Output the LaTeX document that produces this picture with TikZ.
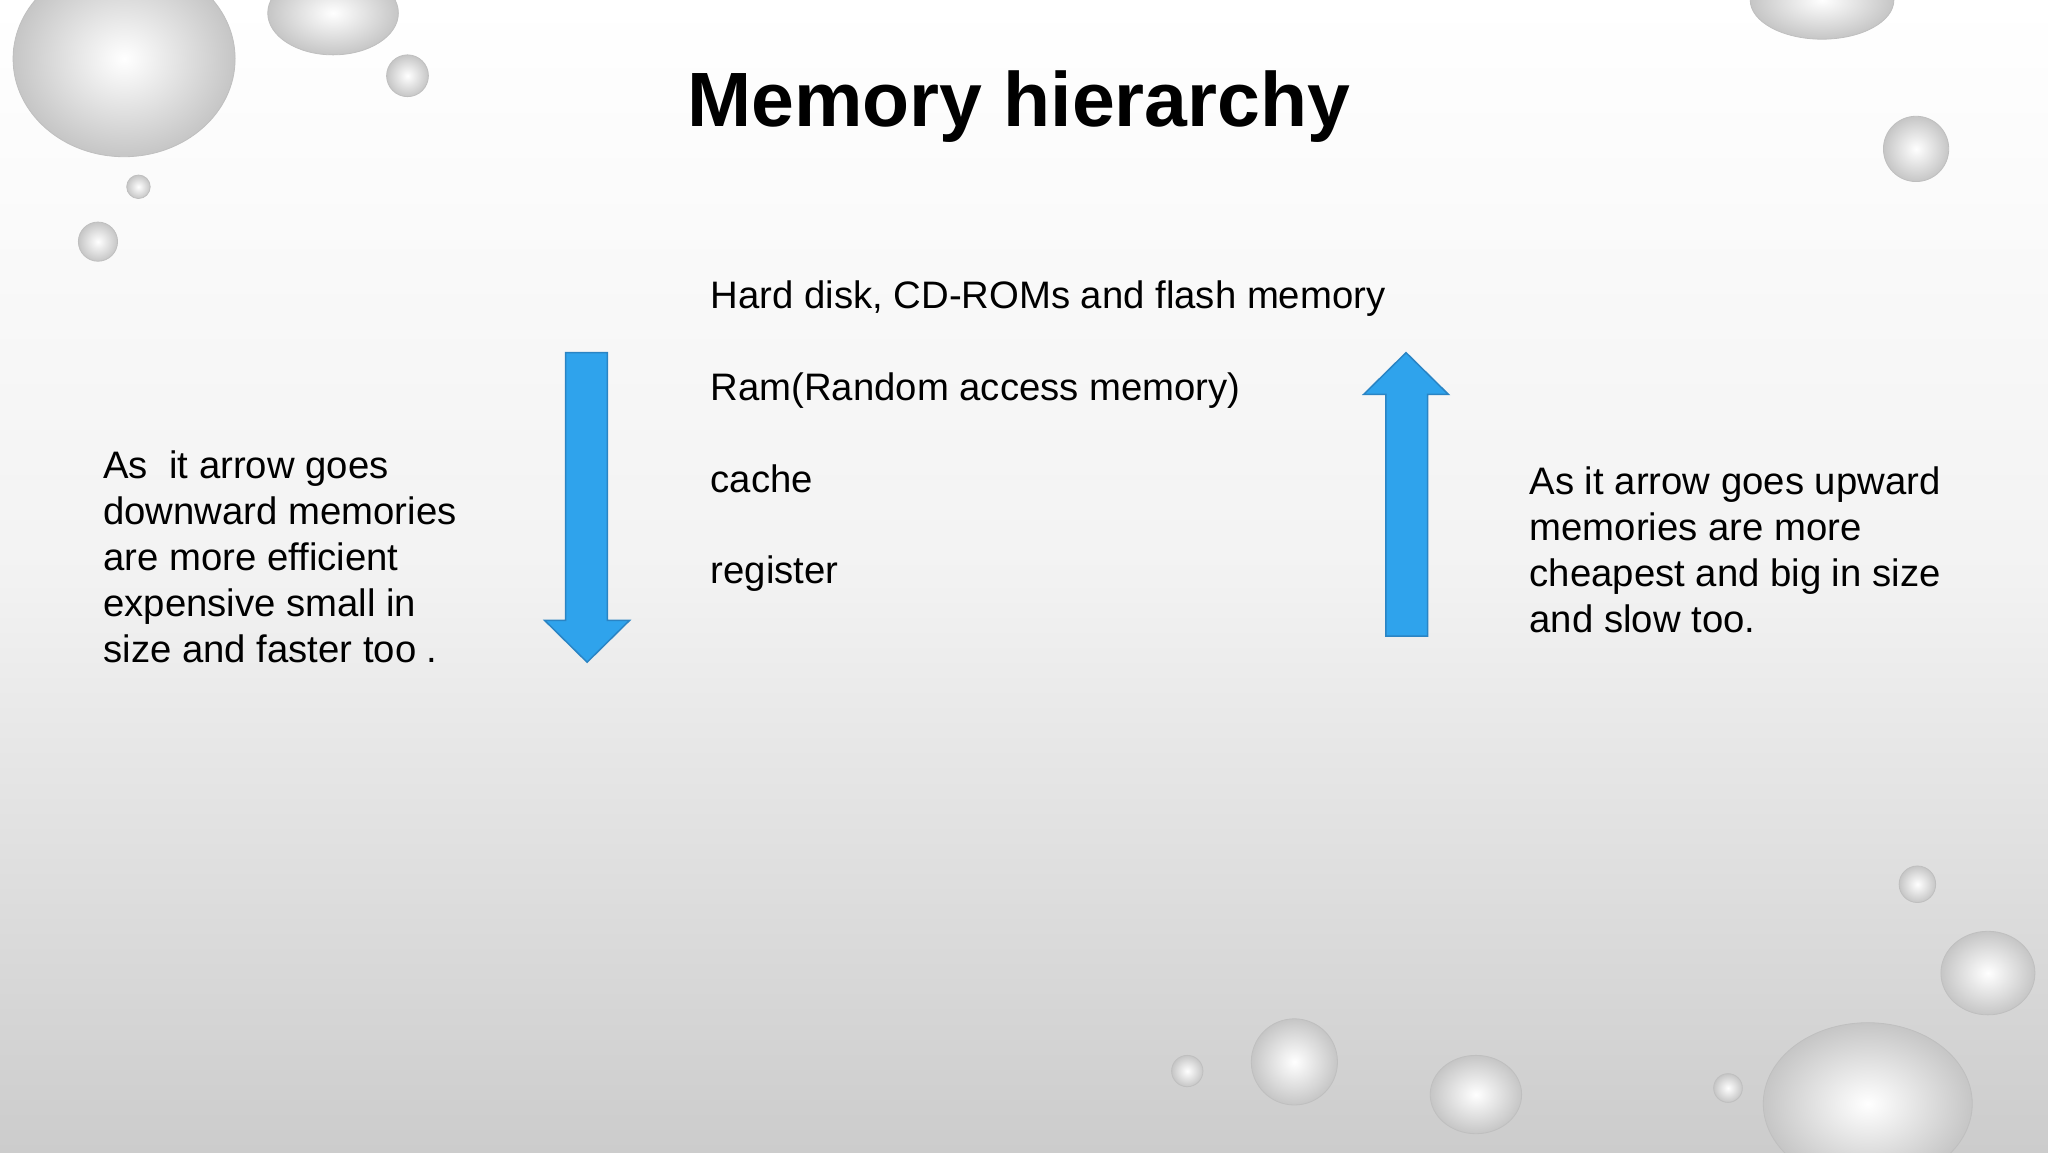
\documentclass[tikz,border=0pt]{standalone}
\usepackage{fontspec}
\setmainfont{Liberation Sans}
\begin{document}
\begin{tikzpicture}[x=1.30612pt,y=-1.30612pt,
  txt/.style={anchor=base west,inner sep=0pt,font=\fontsize{38.3}{46}\selectfont},
  para/.style={txt,align=left},
  arr/.style={fill=arrowblue,draw=arrowedge,line width=1.5pt},
  drop/.style={inner color=white,outer color=gray!45,draw=gray!50,line width=0.8pt}]
\definecolor{arrowblue}{HTML}{2FA3EC}
\definecolor{arrowedge}{HTML}{2A84C4}
\shade[top color=white,bottom color=black!20,middle color=black!5] (0,0) rectangle (1568,882);
\useasboundingbox (0,0) rectangle (1568,882);
% droplets
\shade[drop] (95,45) ellipse (85 and 75);
\shade[drop] (255,10) ellipse (50 and 32);
\shade[drop] (312,58) circle (16);
\shade[drop] (106,143) circle (9);
\shade[drop] (75,185) circle (15);
\shade[drop] (1395,0) ellipse (55 and 30);
\shade[drop] (1467,114) circle (25);
\shade[drop] (1468,677) circle (14);
\shade[drop] (1522,745) ellipse (36 and 32);
\shade[drop] (1430,845) ellipse (80 and 62);
\shade[drop] (1323,833) circle (11);
\shade[drop] (1130,838) ellipse (35 and 30);
\shade[drop] (991,813) circle (33);
\shade[drop] (909,820) circle (12);
% title
\node[anchor=base,inner sep=0pt,font=\fontsize{77}{82}\selectfont\bfseries] (title) at (780,97) {Memory hierarchy};
% list
\node[txt] (hd) at (544,236) {Hard disk, CD-ROMs and flash memory};
\node[txt] (ram) at (544,307) {Ram(Random access memory)};
\node[txt] (cache) at (544,377) {cache};
\node[txt] (reg) at (544,447) {register};
% side texts (base anchor = last line)
\node[para] (left) at (79,507) {As\ \ it arrow goes\\downward memories\\are more efficient\\expensive small in\\size and faster too .};
\node[para] (right) at (1171,484) {As it arrow goes upward\\memories are more\\cheapest and big in size\\and slow too.};
% arrows
\draw[arr] (433,270) -- (465,270) -- (465,475) -- (482,475) -- (449.5,507) -- (417,475) -- (433,475) -- cycle;
\draw[arr] (1061,487) -- (1093,487) -- (1093,302) -- (1109,302) -- (1076.5,270) -- (1044,302) -- (1061,302) -- cycle;
\end{tikzpicture}
\end{document}
